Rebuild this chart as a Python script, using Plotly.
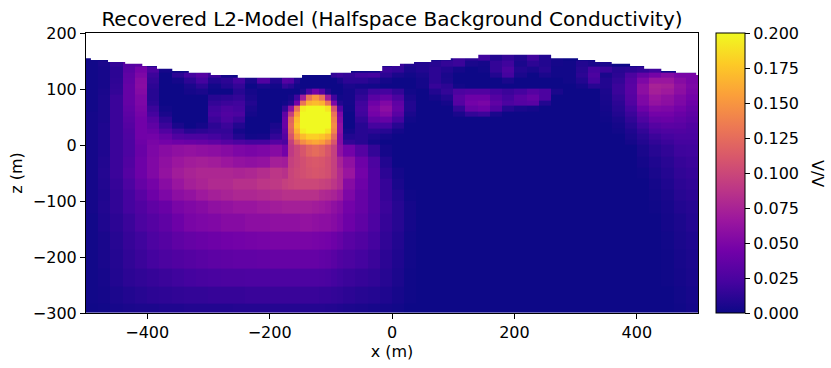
import plotly.graph_objects as go

# cell edges (m)
X_EDGES = list(range(-500, -180, 20)) + list(range(-180, -80, 10)) + list(range(-80, 501, 20))
Z_EDGES = [165, 150, 140, 130, 120, 110, 100, 90, 80, 70, 60, 50, 40, 30, 20, 10, 0,
           -20, -40, -60, -80, -100, -123, -155, -187, -220, -252, -284, -300]

# values in mV/V, one row per z band (top to bottom), split by x blocks
LEFT = [
 [2,0,0,0,0,0,0,0,0,0,0,0,0,0,0,0],
 [2,5,15,30,32,0,0,0,0,0,0,0,0,0,0,0],
 [2,4,12,32,46,25,3,0,0,0,0,0,0,0,0,0],
 [2,4,12,35,50,18,0,12,22,30,18,3,0,0,0,0],
 [2,4,13,36,55,15,0,3,12,22,8,12,22,5,28,8],
 [2,4,14,38,56,12,0,0,5,12,2,8,15,0,5,2],
 [2,5,15,38,54,10,0,0,3,5,0,0,10,3,0,0],
 [2,6,18,38,50,10,0,0,0,0,10,12,15,5,0,0],
 [2,6,18,38,50,12,0,0,0,0,15,18,20,8,0,0],
 [2,6,18,36,48,18,2,0,0,0,20,25,22,5,0,0],
 [3,6,18,34,46,22,5,0,0,0,22,28,25,3,0,0],
 [3,6,18,32,44,30,12,0,0,0,18,25,18,0,0,0],
 [3,7,18,30,44,35,18,5,0,3,12,18,8,0,0,5],
 [3,7,18,28,44,40,28,18,10,12,15,15,3,0,0,8],
 [3,7,18,27,44,45,38,28,25,25,22,18,8,2,3,15],
 [3,7,18,26,42,48,45,42,40,38,35,30,25,22,22,30],
 [3,7,18,26,40,50,56,60,62,60,58,55,50,48,50,55],
 [3,8,18,28,42,52,60,66,70,72,70,66,62,60,62,72],
 [3,9,18,30,42,52,62,70,75,78,78,78,76,78,82,88],
 [3,8,16,26,38,46,56,65,72,76,80,80,84,84,88,90],
 [3,7,14,22,32,42,50,58,62,68,72,75,78,78,80,82],
 [3,8,14,22,28,35,40,48,52,55,60,62,65,65,68,70],
 [2,7,12,18,25,30,35,42,48,50,52,55,55,58,58,60],
 [2,5,10,16,20,26,30,35,38,40,42,44,45,46,47,48],
 [2,5,9,14,18,22,25,28,30,32,34,35,36,36,37,38],
 [2,4,8,12,14,16,18,20,22,23,24,25,25,26,26,26],
 [2,3,6,8,10,12,13,14,15,15,16,16,16,17,17,17],
 [1,2,4,5,6,6,7,7,8,8,8,8,9,9,9,9],
]
BLOB = [
 [0,0,0,0,0,0,0,0,0,0],
 [0,0,0,0,0,0,0,0,0,0],
 [0,0,0,0,0,0,0,0,0,0],
 [0,0,0,0,0,0,0,0,15,18],
 [30,28,8,0,0,0,0,0,0,5],
 [15,10,2,0,0,0,0,0,0,0],
 [0,0,0,5,25,45,30,8,0,0],
 [0,3,20,70,130,150,130,70,20,2],
 [2,8,45,130,165,170,165,130,50,8],
 [15,60,130,195,200,200,200,190,110,30],
 [35,95,155,200,200,200,200,200,130,50],
 [40,120,170,200,200,200,200,200,140,55],
 [40,125,175,200,200,200,200,200,145,60],
 [35,120,165,195,200,200,200,190,140,60],
 [30,110,150,170,180,180,175,165,125,55],
 [25,95,125,145,155,160,155,140,110,55],
 [45,90,100,110,120,125,120,110,95,60],
 [70,95,100,105,110,112,110,105,95,75],
 [85,98,102,105,108,110,108,105,95,80],
 [95,98,100,100,100,100,97,95,88,80],
 [85,85,85,85,85,85,80,78,75,68],
 [72,72,72,72,72,70,68,65,60,55],
 [60,60,60,62,62,60,58,58,55,50],
 [48,48,48,48,48,47,46,45,42,38],
 [38,38,38,38,38,38,36,35,32,28],
 [26,26,26,26,26,26,25,24,22,20],
 [17,17,17,17,17,17,16,16,15,14],
 [9,9,9,9,9,9,9,8,8,7],
]
CENTER = [
 [0,0,0,0,0,0],
 [0,0,0,0,18,8],
 [0,0,0,18,15,5],
 [15,20,22,12,5,2],
 [12,12,8,3,0,0],
 [5,3,2,0,0,0],
 [3,10,20,22,15,2],
 [3,15,32,38,25,5],
 [3,20,42,52,35,8],
 [2,22,48,58,38,8],
 [0,20,45,52,32,5],
 [0,15,35,38,22,2],
 [0,10,22,22,10,0],
 [3,10,12,10,3,0],
 [8,10,6,3,0,0],
 [14,10,3,0,0,0],
 [45,30,15,3,0,0],
 [60,42,25,8,0,0],
 [65,45,28,12,3,0],
 [55,42,28,16,5,0],
 [50,38,28,16,8,1],
 [45,38,28,18,10,3],
 [42,35,26,16,10,3],
 [32,28,22,14,8,2],
 [25,22,18,12,7,2],
 [18,16,14,10,6,1],
 [12,10,9,7,4,1],
 [6,5,4,3,2,0],
]
RING = [
 [0,0,5,18,12,20,8,15,8,20,8,3,0,0,0],
 [8,10,15,18,5,3,15,20,5,12,8,3,2,8,5],
 [8,12,8,3,0,2,15,25,8,5,10,2,2,10,22],
 [5,12,5,0,0,0,8,22,5,0,5,2,2,12,25],
 [3,12,6,0,0,0,0,5,0,0,0,0,2,8,22],
 [3,16,12,2,0,0,0,0,0,0,0,0,0,3,10],
 [0,8,15,25,28,28,22,18,22,30,25,5,0,0,0],
 [0,3,8,32,42,42,30,22,32,38,25,0,0,0,0],
 [0,0,3,30,45,48,35,25,30,32,8,0,0,0,0],
 [0,0,0,15,38,42,28,10,5,3,0,0,0,0,0],
 [0,0,0,5,15,18,5,0,0,0,0,0,0,0,0],
] + [[0] * 15 for _ in range(17)]
LOBE = [
 [0,0,0,0,0,0,0,0],
 [5,0,0,0,0,0,0,0],
 [18,10,12,15,20,0,0,0],
 [5,12,25,38,46,54,48,48],
 [8,15,30,50,65,65,55,48],
 [8,18,32,58,74,72,60,50],
 [6,18,32,58,72,68,58,48],
 [5,15,30,52,65,60,52,45],
 [4,12,28,50,62,58,50,42],
 [3,10,22,42,52,50,45,38],
 [2,8,18,33,45,45,40,35],
 [1,5,14,27,38,40,36,32],
 [0,3,10,20,30,33,32,28],
 [0,2,7,15,24,27,28,26],
 [0,0,5,11,18,22,24,24],
 [0,0,3,8,14,18,22,22],
 [0,0,0,5,10,14,19,20],
 [0,0,0,3,7,11,16,18],
 [0,0,0,1,5,9,14,16],
 [0,0,0,0,3,7,12,14],
 [0,0,0,0,2,5,10,12],
 [0,0,0,0,1,4,8,10],
 [0,0,0,0,0,3,6,9],
 [0,0,0,0,0,2,5,7],
 [0,0,0,0,0,1,4,6],
 [0,0,0,0,0,1,3,5],
 [0,0,0,0,0,0,2,4],
 [0,0,0,0,0,0,1,3],
]

# ground surface: x breakpoints (m) and height (m) over each interval
TOPO_X = [-500, -492, -464, -436, -408, -384, -359, -332, -296, -252, -147, -100, -67, -16,
          13, 36, 64, 96, 141, 260, 304, 332, 359, 389, 412, 440, 464, 497, 500]
TOPO_Z = [155, 152, 148, 145, 141, 136, 132, 129, 125, 120, 125, 129, 132, 141,
          145, 148, 152, 155, 161, 155, 152, 148, 145, 141, 136, 132, 129, 125]

rows = [a + b + c + d + e for a, b, c, d, e in zip(LEFT, BLOB, CENTER, RING, LOBE)]
assert len(rows) == len(Z_EDGES) - 1
assert all(len(r) == len(X_EDGES) - 1 for r in rows)
values = [[v / 1000 for v in r] for r in rows[::-1]]

FONT = "DejaVu Sans"
fig = go.Figure()
fig.add_trace(go.Heatmap(
    x=X_EDGES, y=Z_EDGES[::-1], z=values, zmin=0, zmax=0.2, colorscale="Plasma",
    hoverinfo="skip",
    colorbar=dict(
        x=1.0294, xanchor="left", xpad=0, y=0, yanchor="bottom", ypad=0, len=1,
        lenmode="fraction", thickness=29, thicknessmode="pixels",
        outlinewidth=1, outlinecolor="black",
        ticks="outside", ticklen=5, tickwidth=1, tickcolor="black",
        tick0=0, dtick=0.025, tickformat=".3f",
        tickfont=dict(family=FONT, size=16, color="black"),
    ),
))
# white sky above the ground surface
sky_x, sky_z = [TOPO_X[0]], [200]
for i, h in enumerate(TOPO_Z):
    sky_x += [TOPO_X[i], TOPO_X[i + 1]]
    sky_z += [h, h]
sky_x += [TOPO_X[-1], TOPO_X[0]]
sky_z += [200, 200]
fig.add_trace(go.Scatter(x=sky_x, y=sky_z, mode="lines", fill="toself", fillcolor="white",
                         line=dict(width=0), hoverinfo="skip", showlegend=False))

axis = dict(showgrid=False, zeroline=False, showline=True, linecolor="black", linewidth=1,
            mirror=True, ticks="outside", ticklen=5, tickwidth=1, tickcolor="black",
            tickfont=dict(family=FONT, size=16, color="black"))
fig.update_layout(
    width=831, height=368, autosize=False,
    margin=dict(l=86, r=133, t=33, b=55),
    paper_bgcolor="white", plot_bgcolor="white",
    showlegend=False,
    title=dict(text="Recovered L2-Model (Halfspace Background Conductivity)",
               font=dict(family=FONT, size=20, color="black"),
               x=392 / 831, xanchor="center", y=1 - 19 / 368, yanchor="middle"),
    xaxis=dict(axis, range=[-500, 500], tickmode="array", tickvals=[-400, -200, 0, 200, 400],
               automargin=False,
               title=dict(text="x (m)", font=dict(family=FONT, size=16, color="black"), standoff=3)),
    yaxis=dict(axis, range=[-300, 200], tickmode="array", tickvals=[-300, -200, -100, 0, 100, 200],
               automargin=False,
               title=dict(text="z (m)", font=dict(family=FONT, size=16, color="black"), standoff=6)),
    annotations=[dict(text="V/V", xref="paper", yref="paper", x=(818 - 86) / 612, y=0.5,
                      xanchor="center", yanchor="middle", textangle=90, showarrow=False,
                      font=dict(family=FONT, size=16, color="black"))],
)
fig.write_html("out.html", post_script="document.body.style.margin='0';",
               config={"displayModeBar": False})
